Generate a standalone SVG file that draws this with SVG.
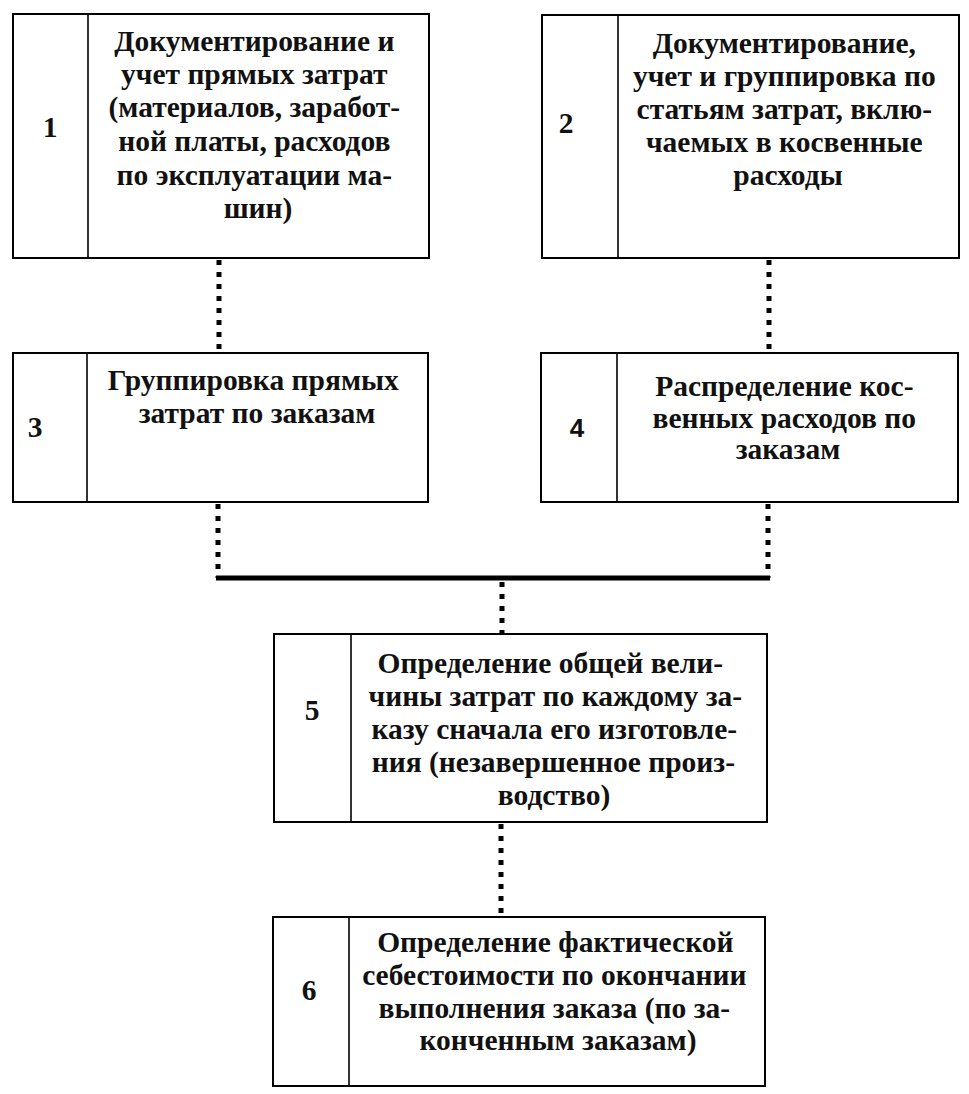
<svg xmlns="http://www.w3.org/2000/svg" width="969" height="1094" viewBox="0 0 969 1094">
<style>
.box{fill:#fff;stroke:#000;stroke-width:2}
.div{stroke:#000;stroke-width:1.6}
text{font-family:'Liberation Serif','DejaVu Serif',serif;font-weight:700;font-size:29.5px;fill:#111;text-anchor:middle}
text.ns{font-family:'Liberation Sans','DejaVu Sans',sans-serif;font-size:26px}
.dot{stroke:#000;stroke-width:5;stroke-dasharray:5 7;fill:none}
.bar{stroke:#000;stroke-width:5;fill:none}
</style>
<rect width="969" height="1094" fill="#fff"/>
<g id="connectors">
<line class="dot" x1="219" y1="260" x2="219" y2="353"/>
<line class="dot" x1="769" y1="260" x2="769" y2="353"/>
<line class="dot" x1="218" y1="504" x2="218" y2="578"/>
<line class="dot" x1="768" y1="504" x2="768" y2="578"/>
<line class="bar" x1="216" y1="578" x2="770" y2="578"/>
<line class="dot" x1="502" y1="582" x2="502" y2="634"/>
<line class="dot" x1="501" y1="824" x2="501" y2="917"/>
</g>
<g id="node1">
<rect class="box" x="13" y="14" width="416" height="244"/>
<line class="div" x1="88" y1="14" x2="88" y2="258"/>
<text x="50" y="137">1</text>
<text x="258">
<tspan x="258" y="51">Документирование и</tspan>
<tspan x="258" y="84">учет прямых затрат</tspan>
<tspan x="258" y="117">(материалов, заработ-</tspan>
<tspan x="258" y="151">ной платы, расходов</tspan>
<tspan x="258" y="185">по эксплуатации ма-</tspan>
<tspan x="258" y="218">шин)</tspan>
</text>
</g>
<g id="node2">
<rect class="box" x="542" y="15" width="417" height="243"/>
<line class="div" x1="618" y1="15" x2="618" y2="258"/>
<text x="566" y="133">2</text>
<text x="788">
<tspan x="788" y="53">Документирование,</tspan>
<tspan x="788" y="86">учет и группировка по</tspan>
<tspan x="788" y="119">статьям затрат, вклю-</tspan>
<tspan x="788" y="152">чаемых в косвенные</tspan>
<tspan x="788" y="185">расходы</tspan>
</text>
</g>
<g id="node3">
<rect class="box" x="13" y="353" width="415" height="149"/>
<line class="div" x1="87" y1="353" x2="87" y2="502"/>
<text x="35" y="437">3</text>
<text x="257">
<tspan x="257" y="390">Группировка прямых</tspan>
<tspan x="257" y="423">затрат по заказам</tspan>
</text>
</g>
<g id="node4">
<rect class="box" x="541" y="353" width="417" height="149"/>
<line class="div" x1="617" y1="353" x2="617" y2="502"/>
<text class="ns" x="577" y="437">4</text>
<text x="788">
<tspan x="788" y="396">Распределение кос-</tspan>
<tspan x="788" y="428">венных расходов по</tspan>
<tspan x="788" y="459">заказам</tspan>
</text>
</g>
<g id="node5">
<rect class="box" x="274" y="634" width="493" height="188"/>
<line class="div" x1="351" y1="634" x2="351" y2="822"/>
<text x="312" y="720">5</text>
<text x="558">
<tspan x="554" y="673">Определение общей вели-</tspan>
<tspan x="559" y="706">чины затрат по каждому за-</tspan>
<tspan x="558" y="739">казу сначала его изготовле-</tspan>
<tspan x="557" y="772">ния (незавершенное произ-</tspan>
<tspan x="554" y="805">водство)</tspan>
</text>
</g>
<g id="node6">
<rect class="box" x="273" y="917" width="492" height="169"/>
<line class="div" x1="349" y1="917" x2="349" y2="1086"/>
<text x="309" y="1000">6</text>
<text x="558">
<tspan x="559" y="952">Определение фактической</tspan>
<tspan x="558" y="985">себестоимости по окончании</tspan>
<tspan x="558" y="1018">выполнения заказа (по за-</tspan>
<tspan x="558" y="1050">конченным заказам)</tspan>
</text>
</g>
</svg>
